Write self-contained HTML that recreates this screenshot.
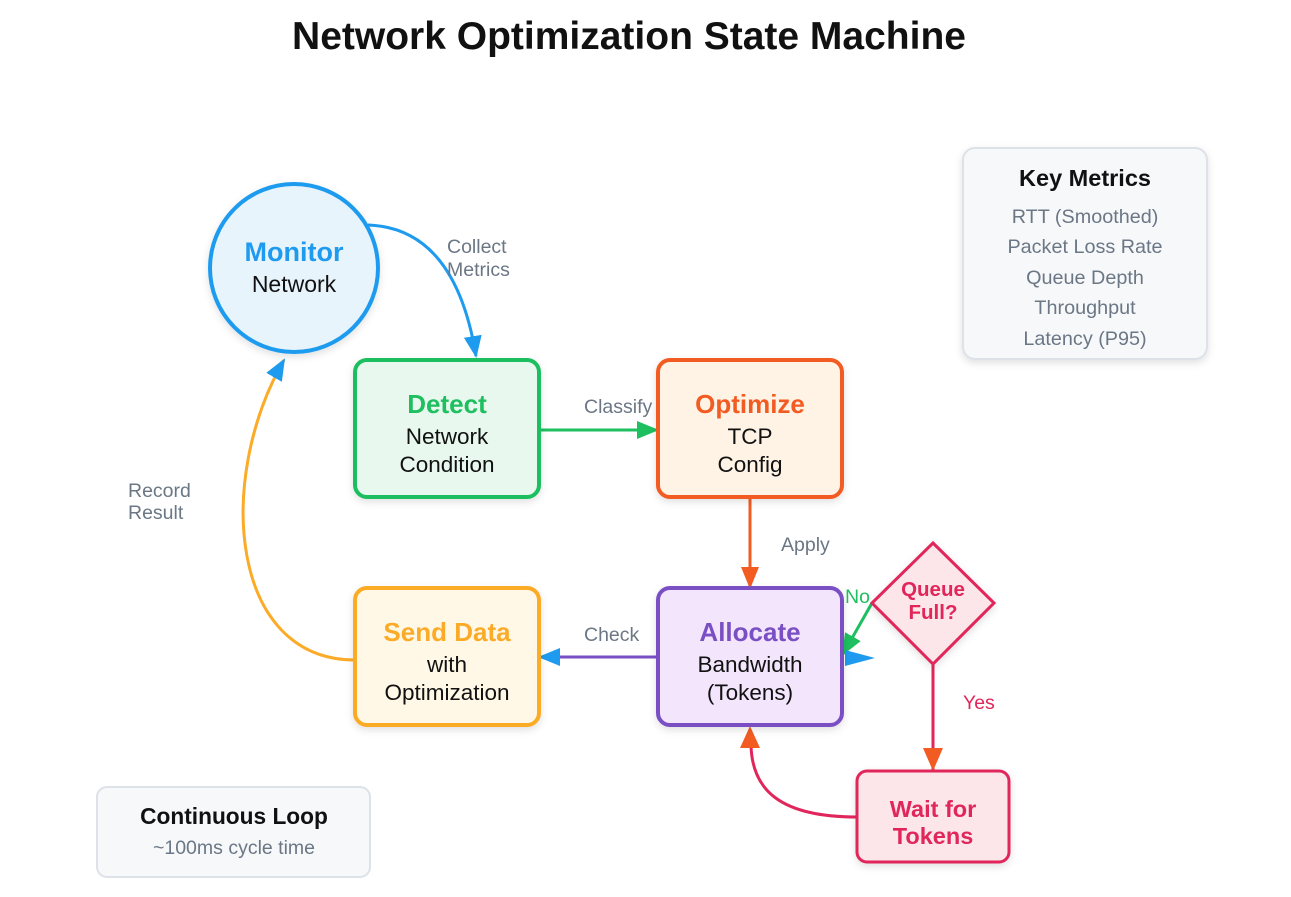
<!DOCTYPE html>
<html><head><meta charset="utf-8"><style>
html,body{margin:0;padding:0;background:#fff;}
svg{display:block;font-family:"Liberation Sans",Arial,sans-serif;}
</style></head><body>
<svg width="1291" height="897" viewBox="0 0 1291 897" xmlns="http://www.w3.org/2000/svg">
<defs>
<filter id="sh" x="-20%" y="-20%" width="140%" height="140%"><feDropShadow dx="0" dy="3" stdDeviation="4" flood-color="#000" flood-opacity="0.12"/></filter>
<marker id="mb" markerUnits="userSpaceOnUse" markerWidth="22" markerHeight="18" refX="20" refY="9" orient="auto"><path d="M0,0 L22,9 L0,18 Z" fill="#1e9bef"/></marker>
<marker id="mg" markerUnits="userSpaceOnUse" markerWidth="22" markerHeight="18" refX="20" refY="9" orient="auto"><path d="M0,0 L22,9 L0,18 Z" fill="#1dbf5f"/></marker>
<marker id="mo" markerUnits="userSpaceOnUse" markerWidth="22" markerHeight="18" refX="20" refY="9" orient="auto"><path d="M0,0 L22,9 L0,18 Z" fill="#f25c22"/></marker>
</defs>
<text x="629" y="49" text-anchor="middle" font-size="39" font-weight="bold" fill="#111">Network Optimization State Machine</text>

<!-- connectors -->
<path d="M368,225 Q455,228 476,356" fill="none" stroke="#1e9bef" stroke-width="3" marker-end="url(#mb)"/>
<line x1="539" y1="430" x2="657" y2="430" stroke="#1dbf5f" stroke-width="3" marker-end="url(#mg)"/>
<line x1="750" y1="497" x2="750" y2="587" stroke="#f25c22" stroke-width="3" marker-end="url(#mo)"/>
<line x1="658" y1="657" x2="540" y2="657" stroke="#7a4fc4" stroke-width="3" marker-end="url(#mb)"/>
<path d="M355,660 C230,660 215,480 284,360" fill="none" stroke="#fbab27" stroke-width="3" marker-end="url(#mb)"/>
<line x1="872" y1="603" x2="843" y2="654" stroke="#1dbf5f" stroke-width="3" marker-end="url(#mg)"/>
<path d="M845,650 L875,658 L845,666 Z" fill="#1e9bef"/>
<line x1="933" y1="664" x2="933" y2="770" stroke="#e0265a" stroke-width="3"/>
<path d="M923,748 L943,748 L933,771 Z" fill="#f25c22"/>
<path d="M857,817 C780,817 752,790 751,745" fill="none" stroke="#e0265a" stroke-width="3"/>
<path d="M740,748 L760,748 L750,726 Z" fill="#f25c22"/>

<!-- nodes -->
<circle cx="294" cy="268" r="84" fill="#e8f4fc" stroke="#1e9bef" stroke-width="4" filter="url(#sh)"/>
<text x="294" y="261" text-anchor="middle" font-size="27" font-weight="bold" fill="#1e9bef">Monitor</text>
<text x="294" y="292" text-anchor="middle" font-size="23" fill="#111">Network</text>

<rect x="355" y="360" width="184" height="137" rx="12" fill="#e8f8ee" stroke="#1dbf5f" stroke-width="4" filter="url(#sh)"/>
<text x="447" y="413" text-anchor="middle" font-size="26" font-weight="bold" fill="#1dbf5f">Detect</text>
<text x="447" y="444" text-anchor="middle" font-size="22.5" fill="#111">Network</text>
<text x="447" y="472" text-anchor="middle" font-size="22.5" fill="#111">Condition</text>

<rect x="658" y="360" width="184" height="137" rx="12" fill="#fff3e6" stroke="#f25c22" stroke-width="4" filter="url(#sh)"/>
<text x="750" y="413" text-anchor="middle" font-size="26" font-weight="bold" fill="#f25c22">Optimize</text>
<text x="750" y="444" text-anchor="middle" font-size="22.5" fill="#111">TCP</text>
<text x="750" y="472" text-anchor="middle" font-size="22.5" fill="#111">Config</text>

<rect x="658" y="588" width="184" height="137" rx="12" fill="#f3e6fc" stroke="#7a4fc4" stroke-width="4" filter="url(#sh)"/>
<text x="750" y="641" text-anchor="middle" font-size="26" font-weight="bold" fill="#7a4fc4">Allocate</text>
<text x="750" y="672" text-anchor="middle" font-size="22.5" fill="#111">Bandwidth</text>
<text x="750" y="700" text-anchor="middle" font-size="22.5" fill="#111">(Tokens)</text>

<rect x="355" y="588" width="184" height="137" rx="12" fill="#fff8e6" stroke="#fbab27" stroke-width="4" filter="url(#sh)"/>
<text x="447" y="641" text-anchor="middle" font-size="26" font-weight="bold" fill="#fbab27">Send Data</text>
<text x="447" y="672" text-anchor="middle" font-size="22.5" fill="#111">with</text>
<text x="447" y="700" text-anchor="middle" font-size="22.5" fill="#111">Optimization</text>

<path d="M933,543 L994,603 L933,664 L872,603 Z" fill="#fde6e9" stroke="#e0265a" stroke-width="3" filter="url(#sh)"/>
<text x="933" y="596" text-anchor="middle" font-size="20.5" font-weight="bold" fill="#e0265a">Queue</text>
<text x="933" y="619" text-anchor="middle" font-size="20.5" font-weight="bold" fill="#e0265a">Full?</text>

<rect x="857" y="771" width="152" height="91" rx="10" fill="#fde6e9" stroke="#e0265a" stroke-width="3" filter="url(#sh)"/>
<text x="933" y="817" text-anchor="middle" font-size="23.5" font-weight="bold" fill="#e0265a">Wait for</text>
<text x="933" y="844" text-anchor="middle" font-size="23.5" font-weight="bold" fill="#e0265a">Tokens</text>

<!-- labels -->
<g font-size="19.5" fill="#6b7785">
<text x="447" y="253">Collect</text><text x="447" y="276">Metrics</text>
<text x="584" y="413">Classify</text>
<text x="781" y="551">Apply</text>
<text x="584" y="641">Check</text>
<text x="128" y="497">Record</text><text x="128" y="519">Result</text>
</g>
<text x="845" y="603" font-size="19.5" fill="#1dbf5f">No</text>
<text x="963" y="709" font-size="19.5" fill="#e0265a">Yes</text>

<!-- key metrics -->
<rect x="963" y="148" width="244" height="211" rx="12" fill="#f6f8fa" stroke="#dde2e8" stroke-width="2" filter="url(#sh)"/>
<text x="1085" y="186" text-anchor="middle" font-size="23.5" font-weight="bold" fill="#111">Key Metrics</text>
<g font-size="19.8" fill="#6b7785" text-anchor="middle">
<text x="1085" y="223">RTT (Smoothed)</text>
<text x="1085" y="253">Packet Loss Rate</text>
<text x="1085" y="284">Queue Depth</text>
<text x="1085" y="314">Throughput</text>
<text x="1085" y="345">Latency (P95)</text>
</g>

<rect x="97" y="787" width="273" height="90" rx="10" fill="#f6f8fa" stroke="#dde2e8" stroke-width="2"/>
<text x="234" y="824" text-anchor="middle" font-size="22.7" font-weight="bold" fill="#111">Continuous Loop</text>
<text x="234" y="854" text-anchor="middle" font-size="19.5" fill="#6b7785">~100ms cycle time</text>
</svg>
</body></html>
